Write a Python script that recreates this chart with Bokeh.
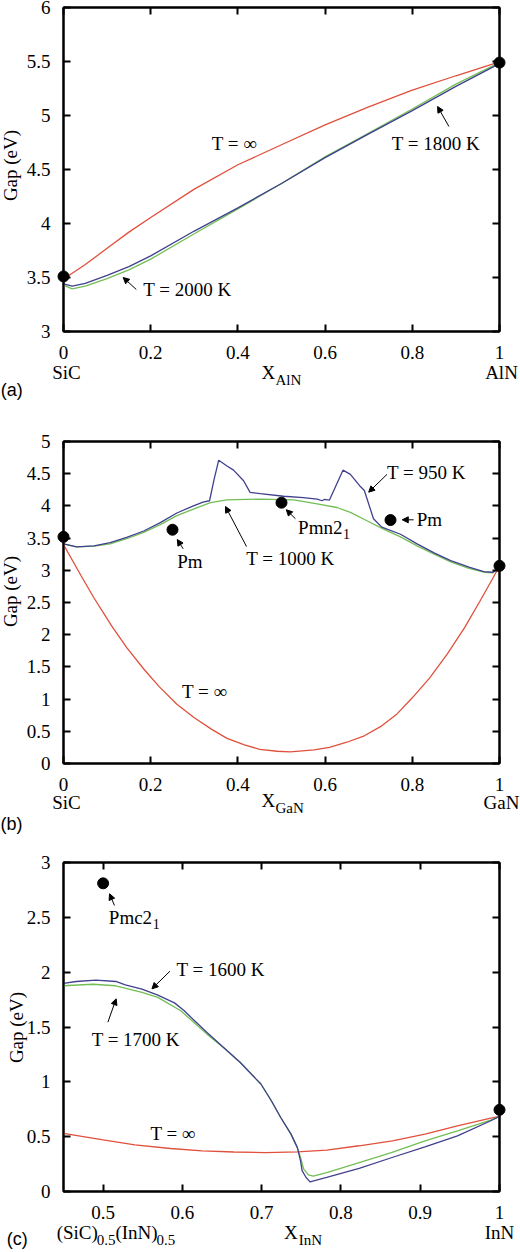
import math

from bokeh.core.properties import value
from bokeh.embed import file_html
from bokeh.layouts import column
from bokeh.models import Arrow, FixedTicker, Label, LinearAxis, NormalHead, Range1d
from bokeh.plotting import figure
from bokeh.resources import INLINE

SERIF = "Liberation Serif"
SANS = "Liberation Sans"
RED = "#e0503c"
BLUE = "#40408f"
GREEN = "#72be55"

# ---------------- (a) SiC - AlN ----------------
a_x_inf = [0, 0.02, 0.05, 0.1, 0.15, 0.2, 0.3, 0.4, 0.5, 0.6, 0.7, 0.8, 0.9, 1.0]
a_gap_inf = [3.49, 3.54, 3.62, 3.77, 3.92, 4.056, 4.318, 4.544, 4.729, 4.914, 5.08, 5.235, 5.368, 5.497]
a_x_T = [0, 0.02, 0.05, 0.1, 0.15, 0.2, 0.3, 0.4, 0.5, 0.6, 0.7, 0.8, 0.9, 1.0]
a_gap_1800 = [3.44, 3.42, 3.445, 3.52, 3.60, 3.70, 3.93, 4.145, 4.37, 4.61, 4.83, 5.045, 5.27, 5.48]
a_gap_2000 = [3.43, 3.395, 3.42, 3.49, 3.57, 3.67, 3.905, 4.135, 4.37, 4.617, 4.838, 5.06, 5.29, 5.49]
a_pts_x = [0, 1]
a_pts_gap = [3.51, 5.49]
a_xticks = [0, 0.2, 0.4, 0.6, 0.8, 1.0]
a_xlabels = ["0", "0.2", "0.4", "0.6", "0.8", "1"]
a_yticks = [3, 3.5, 4, 4.5, 5, 5.5, 6]
a_ylabels = ["3", "3.5", "4", "4.5", "5", "5.5", "6"]

# ---------------- (b) SiC - GaN ----------------
b_x_inf = [0, 0.04, 0.07, 0.11, 0.145, 0.185, 0.22, 0.26, 0.30, 0.34, 0.375, 0.415, 0.45,
           0.49, 0.52, 0.575, 0.61, 0.65, 0.69, 0.73, 0.765, 0.80, 0.84, 0.88, 0.92, 0.955,
           0.985, 1.0]
b_gap_inf = [3.40, 2.92, 2.57, 2.14, 1.80, 1.46, 1.19, 0.92, 0.71, 0.53, 0.39, 0.29, 0.22,
             0.19, 0.18, 0.21, 0.25, 0.33, 0.43, 0.585, 0.77, 1.02, 1.33, 1.70, 2.11, 2.52,
             2.88, 3.07]
b_x_950 = [0, 0.03, 0.07, 0.107, 0.145, 0.184, 0.222, 0.26, 0.298, 0.32, 0.335, 0.345, 0.356,
           0.375, 0.39, 0.413, 0.428, 0.451, 0.505, 0.55, 0.582, 0.593, 0.598, 0.61, 0.641,
           0.658, 0.681, 0.69, 0.711, 0.73, 0.773, 0.811, 0.85, 0.888, 0.93, 0.964, 0.985, 1.0]
b_gap_950 = [3.41, 3.365, 3.38, 3.43, 3.51, 3.61, 3.74, 3.89, 4.0, 4.06, 4.08, 4.4, 4.71,
             4.62, 4.555, 4.39, 4.21, 4.19, 4.15, 4.13, 4.105, 4.08, 4.10, 4.09, 4.555,
             4.49, 4.30, 4.24, 3.80, 3.67, 3.56, 3.41, 3.27, 3.15, 3.05, 2.98, 2.97, 3.05]
b_x_1000 = [0, 0.03, 0.07, 0.107, 0.145, 0.184, 0.222, 0.26, 0.298, 0.337, 0.375, 0.451, 0.528,
            0.582, 0.627, 0.658, 0.696, 0.734, 0.773, 0.811, 0.85, 0.888, 0.93, 0.964, 0.985, 1.0]
b_gap_1000 = [3.41, 3.365, 3.375, 3.41, 3.49, 3.59, 3.71, 3.85, 3.95, 4.05, 4.095, 4.105, 4.095,
              4.03, 3.975, 3.90, 3.77, 3.64, 3.52, 3.38, 3.25, 3.13, 3.03, 2.97, 2.96, 3.05]
b_pts_x = [0, 0.25, 0.5, 0.75, 1]
b_pts_gap = [3.52, 3.63, 4.05, 3.78, 3.07]
b_xticks = [0, 0.2, 0.4, 0.6, 0.8, 1.0]
b_xlabels = ["0", "0.2", "0.4", "0.6", "0.8", "1"]
b_yticks = [0, 0.5, 1, 1.5, 2, 2.5, 3, 3.5, 4, 4.5, 5]
b_ylabels = ["0", "0.5", "1", "1.5", "2", "2.5", "3", "3.5", "4", "4.5", "5"]

# ---------------- (c) (SiC)0.5(InN)0.5 - InN ----------------
c_x_inf = [0.45, 0.50, 0.54, 0.585, 0.625, 0.665, 0.705, 0.745, 0.782, 0.823, 0.865, 0.906,
           0.947, 0.989, 1.0]
c_gap_inf = [0.53, 0.47, 0.426, 0.392, 0.371, 0.36, 0.355, 0.362, 0.377, 0.417, 0.462, 0.523,
             0.599, 0.669, 0.685]
c_x_1600 = [0.45, 0.466, 0.491, 0.516, 0.528, 0.549, 0.569, 0.59, 0.602, 0.611, 0.631, 0.652,
            0.673, 0.693, 0.699, 0.712, 0.724, 0.737, 0.745, 0.749, 0.751, 0.756, 0.761, 0.782,
            0.823, 0.8645, 0.906, 0.947, 0.989, 1.0]
c_gap_1600 = [1.897, 1.915, 1.928, 1.915, 1.885, 1.845, 1.79, 1.72, 1.65, 1.587, 1.45, 1.313,
              1.176, 1.025, 0.98, 0.83, 0.675, 0.523, 0.40, 0.28, 0.19, 0.128, 0.088, 0.128,
              0.21, 0.31, 0.407, 0.508, 0.645, 0.685]
c_x_1700 = [0.45, 0.487, 0.516, 0.549, 0.569, 0.598, 0.611, 0.631, 0.652, 0.673, 0.693, 0.699,
            0.712, 0.724, 0.737, 0.745, 0.749, 0.753, 0.759, 0.765, 0.782, 0.823, 0.8645, 0.906,
            0.947, 0.989, 1.0]
c_gap_1700 = [1.876, 1.89, 1.876, 1.815, 1.77, 1.648, 1.563, 1.435, 1.31, 1.176, 1.025, 0.98,
              0.83, 0.675, 0.523, 0.40, 0.31, 0.204, 0.152, 0.14, 0.173, 0.264, 0.356, 0.462,
              0.553, 0.651, 0.685]
c_pts_x = [0.5, 1]
c_pts_gap = [2.81, 0.745]
c_xticks = [0.5, 0.6, 0.7, 0.8, 0.9, 1.0]
c_xlabels = ["0.5", "0.6", "0.7", "0.8", "0.9", "1"]
c_yticks = [0, 0.5, 1, 1.5, 2, 2.5, 3]
c_ylabels = ["0", "0.5", "1", "1.5", "2", "2.5", "3"]


def styled_axis(ticks, labels, show_labels):
    ax = LinearAxis(ticker=FixedTicker(ticks=ticks))
    ax.axis_line_color = "black"
    ax.axis_line_width = 2
    ax.major_tick_in = 7
    ax.major_tick_out = 0
    ax.major_tick_line_width = 2
    ax.major_tick_line_color = "black"
    ax.minor_tick_line_color = None
    if show_labels:
        ax.major_label_overrides = dict(zip(ticks, labels))
        ax.major_label_text_font = SERIF
        ax.major_label_text_color = "black"
        ax.major_label_text_font_size = "19px"
    else:
        # mirrored tick marks only
        ax.major_label_text_color = None
        ax.major_label_text_font_size = "0px"
        ax.major_label_standoff = 0
    return ax


class Panel:
    """One stacked figure whose plotting frame sits at fixed page pixels."""

    def __init__(self, page_top, height, frame, xr, yr, xticks, xlabels, yticks, ylabels):
        left, top, right, bottom = frame
        self.left, self.top, self.right, self.bottom = left, top, right, bottom
        self.xr, self.yr = xr, yr
        self.fig = figure(width=520, height=height,
                          x_range=Range1d(*xr), y_range=Range1d(*yr),
                          x_axis_type=None, y_axis_type=None,
                          min_border_left=left, min_border_right=520 - right,
                          min_border_top=top - page_top,
                          min_border_bottom=page_top + height - bottom,
                          output_backend="svg", toolbar_location=None)
        f = self.fig
        f.outline_line_color = "black"
        f.outline_line_width = 2
        f.background_fill_color = "white"
        f.border_fill_color = "white"
        bx = styled_axis(xticks, xlabels, True)
        bx.major_label_standoff = 14
        ly = styled_axis(yticks, ylabels, True)
        ly.major_label_standoff = 13
        f.add_layout(bx, "below")
        f.add_layout(ly, "left")
        f.add_layout(styled_axis(xticks, xlabels, False), "above")
        f.add_layout(styled_axis(yticks, ylabels, False), "right")

    def page_text(self, px, py, text, size=19, font=SERIF, align="left", angle=0.0):
        """Text placed by page pixel, drawn above the frame so it is not clipped."""
        x0, x1 = self.xr
        y0, y1 = self.yr
        x = x0 + (px - self.left) * (x1 - x0) / (self.right - self.left)
        y = y0 + (self.bottom - py) * (y1 - y0) / (self.bottom - self.top)
        self.fig.text(x=[x], y=[y], text=[text], text_font=value(font),
                      text_font_size=value(f"{size}px"), text_align=value(align),
                      text_baseline=value("middle"), angle=angle,
                      text_color="black", level="overlay")

    def data_text(self, x, y, text, size=19, dx=0, dy=0, align="left"):
        self.fig.add_layout(Label(x=x, y=y, x_offset=dx, y_offset=dy, text=text,
                                  text_font=SERIF, text_font_size=f"{size}px",
                                  text_align=align, text_baseline="middle",
                                  text_color="black"))

    def pointer(self, x0, y0, x1, y1):
        self.fig.add_layout(Arrow(end=NormalHead(size=6, fill_color="black",
                                                 line_color="black", line_width=1),
                                  x_start=x0, y_start=y0, x_end=x1, y_end=y1,
                                  line_color="black", line_width=1))

    def curves(self, series):
        for xs, ys, color in series:
            self.fig.line(xs, ys, line_color=color, line_width=1.3)

    def dots(self, xs, ys):
        self.fig.scatter(xs, ys, size=11, color="black", level="overlay")


# ---- panel (a)
pa = Panel(0, 420, (63, 7, 501, 331), (0, 1), (3, 6), a_xticks, a_xlabels, a_yticks, a_ylabels)
pa.curves([(a_x_inf, a_gap_inf, RED), (a_x_T, a_gap_2000, GREEN), (a_x_T, a_gap_1800, BLUE)])
pa.dots(a_pts_x, a_pts_gap)
pa.data_text(0.34, 4.74, "T = \u221e")
pa.data_text(0.753, 4.74, "T = 1800 K")
pa.pointer(0.884, 4.898, 0.858, 5.083)
pa.data_text(0.183, 3.389, "T = 2000 K")
pa.pointer(0.167, 3.389, 0.137, 3.50)
pa.page_text(66, 372, "SiC", align="center")
pa.page_text(503, 372, "AlN", align="center")
pa.page_text(262, 372, "X")
pa.page_text(276, 379, "AlN", size=15)
pa.page_text(0, 389, "(a)", size=18, font=SANS)
pa.page_text(10, 165, "Gap (eV)", align="center", angle=math.pi / 2)

# ---- panel (b)
pb = Panel(420, 420, (63, 441, 499, 763), (0, 1), (0, 5), b_xticks, b_xlabels, b_yticks, b_ylabels)
pb.curves([(b_x_inf, b_gap_inf, RED), (b_x_1000, b_gap_1000, GREEN), (b_x_950, b_gap_950, BLUE)])
pb.dots(b_pts_x, b_pts_gap)
pb.data_text(0.742, 4.523, "T = 950 K")
pb.pointer(0.742, 4.49, 0.700, 4.213)
pb.data_text(0.81, 3.784, "Pm")
pb.pointer(0.803, 3.784, 0.777, 3.784)
pb.data_text(0.538, 3.669, "Pmn2")
pb.data_text(0.538, 3.669, "1", size=14, dx=45, dy=-7)
pb.pointer(0.532, 3.80, 0.511, 3.94)
pb.data_text(0.261, 3.14, "Pm")
pb.pointer(0.2745, 3.334, 0.261, 3.478)
pb.data_text(0.419, 3.179, "T = 1000 K")
pb.pointer(0.4197, 3.37, 0.3716, 3.99)
pb.data_text(0.272, 1.123, "T = \u221e")
pb.page_text(66, 802, "SiC", align="center")
pb.page_text(501, 802, "GaN", align="center")
pb.page_text(261, 800, "X")
pb.page_text(275, 807, "GaN", size=15)
pb.page_text(0, 823, "(b)", size=18, font=SANS)
pb.page_text(10, 591, "Gap (eV)", align="center", angle=math.pi / 2)

# ---- panel (c)
pc = Panel(840, 412, (58, 862, 503, 1191), (0.45, 1), (0, 3), c_xticks, c_xlabels, c_yticks, c_ylabels)
pc.curves([(c_x_inf, c_gap_inf, RED), (c_x_1700, c_gap_1700, GREEN), (c_x_1600, c_gap_1600, BLUE)])
pc.dots(c_pts_x, c_pts_gap)
pc.data_text(0.5072, 2.501, "Pmc2")
pc.data_text(0.5072, 2.501, "1", size=14, dx=44, dy=-7)
pc.pointer(0.5143, 2.608, 0.5081, 2.715)
pc.data_text(0.5925, 2.022, "T = 1600 K")
pc.pointer(0.5843, 2.009, 0.5616, 1.848)
pc.data_text(0.4855, 1.383, "T = 1700 K")
pc.pointer(0.506, 1.544, 0.5164, 1.757)
pc.data_text(0.5596, 0.526, "T = \u221e")
pc.page_text(51, 1232, "(SiC)")
pc.page_text(92, 1239, "0.5", size=15)
pc.page_text(111, 1232, "(InN)")
pc.page_text(153, 1239, "0.5", size=15)
pc.page_text(283, 1232, "X")
pc.page_text(298, 1239, "InN", size=15)
pc.page_text(503, 1232, "InN", align="center")
pc.page_text(0, 1238, "(c)", size=18, font=SANS)
pc.page_text(10, 1027, "Gap (eV)", align="center", angle=math.pi / 2)

layout = column(pa.fig, pb.fig, pc.fig, spacing=0)
open("out.html", "w").write(file_html(layout, INLINE))
